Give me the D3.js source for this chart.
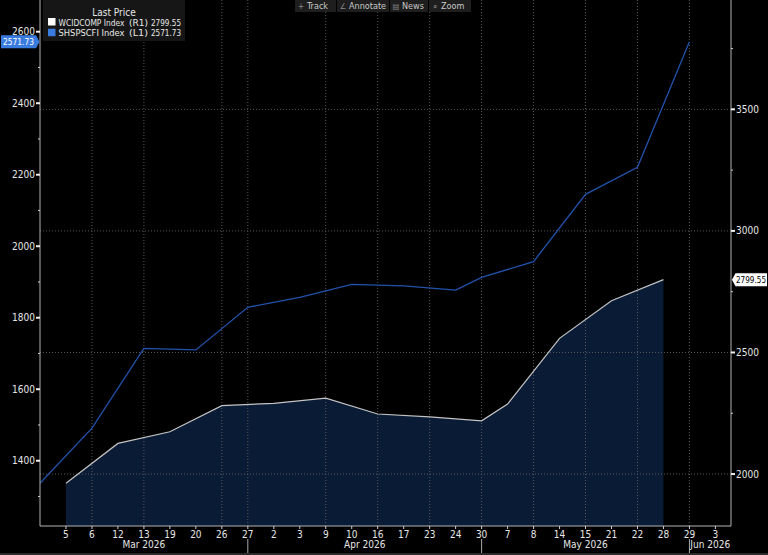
<!DOCTYPE html>
<html>
<head>
<meta charset="utf-8">
<script src="https://cdn.jsdelivr.net/npm/d3@7"></script>
<style>
  html, body { margin: 0; padding: 0; background: #000; }
  text { font-family: "Liberation Sans Narrow", "DejaVu Sans Condensed", "Liberation Sans", sans-serif; }
</style>
</head>
<body>
<div id="chart-container"></div>
<script>
// weekly dates on the category axis (Thursdays for WCI, Fridays for SCFI)
const dates = ["5", "6", "12", "13", "19", "20", "26", "27", "2", "3", "9", "10", "16",
  "17", "23", "24", "30", "7", "8", "14", "15", "21", "22", "28", "29", "3"];
const months = ["Mar 2026", "Apr 2026", "May 2026", "Jun 2026"];
const monthLastIndex = [7, 16, 24, 25];
const gridIndex = [1, 3, 6, 7, 10, 12, 14, 16, 18, 20, 22, 24];

// SHSPSCFI Index (left axis); the first value is the week before the window
const scfiPrior = 1337;
const scfi = [null, 1491, null, 1714, null, 1710, null, 1829, null, 1857, null, 1893, null,
  1889, null, 1877, 1913, null, 1957, null, 2145, null, 2221, null, 2571.73, null];
// WCIDCOMP Index (right axis)
const wci = [1962, null, 2126, null, 2174, null, 2281, null, 2291, null, 2312, null, 2247,
  null, 2235, null, 2219, 2288, null, 2558, null, 2713, null, 2799.55, null, null];

const leftTicks = [1400, 1600, 1800, 2000, 2200, 2400, 2600];
const leftMinor = [1300, 1500, 1700, 1900, 2100, 2300, 2500];
const rightTicks = [2000, 2500, 3000, 3500];
const rightMinor = [2250, 2750, 3250, 3750];

const width = 768;
const height = 555;
const plot = { left: 40, right: 731, top: 0, bottom: 526 };

const xScale = d3.scaleLinear().domain([-1, 25.6]).range([plot.left, plot.right]);
const yLeft = d3.scaleLinear().domain([1217.4, 2688.7]).range([plot.bottom, plot.top]);
const yRight = d3.scaleLinear().domain([1786.3, 3949.6]).range([plot.bottom, plot.top]);

const svg = d3
  .select("#chart-container")
  .append("svg")
  .attr("width", width)
  .attr("height", height)
  .style("display", "block")
  .style("background", "#000");

svg.append("defs")
  .append("clipPath")
  .attr("id", "plot-clip")
  .append("rect")
  .attr("x", plot.left)
  .attr("y", plot.top)
  .attr("width", plot.right - plot.left)
  .attr("height", plot.bottom - plot.top);

const scfiPts = [[-1, scfiPrior]].concat(
  scfi.map((v, i) => [i, v]).filter(d => d[1] !== null)
);
const wciPts = wci.map((v, i) => [i, v]).filter(d => d[1] !== null);

// area under WCI
const area = d3.area()
  .x(d => xScale(d[0]))
  .y0(plot.bottom)
  .y1(d => yRight(d[1]));

svg.append("path")
  .datum(wciPts)
  .attr("d", area)
  .attr("fill", "#0a1b35");

// grid
const grid = svg.append("g").attr("class", "grid");
grid.selectAll(".hgrid")
  .data(rightTicks)
  .enter()
  .append("line")
  .attr("x1", plot.left)
  .attr("x2", plot.right)
  .attr("y1", d => yRight(d))
  .attr("y2", d => yRight(d))
  .attr("stroke", "#5a5a5a")
  .attr("stroke-dasharray", "1,2");

grid.selectAll(".vgrid")
  .data(gridIndex)
  .enter()
  .append("line")
  .attr("x1", d => xScale(d))
  .attr("x2", d => xScale(d))
  .attr("y1", plot.top)
  .attr("y2", plot.bottom)
  .attr("stroke", "#5a5a5a")
  .attr("stroke-dasharray", "1,2");

// lines
const lineGen = d3.line()
  .x(d => xScale(d[0]));

svg.append("path")
  .datum(wciPts)
  .attr("d", lineGen.y(d => yRight(d[1])))
  .attr("fill", "none")
  .attr("stroke", "#c4c4c4")
  .attr("stroke-width", 1.2);

svg.append("path")
  .datum(scfiPts)
  .attr("clip-path", "url(#plot-clip)")
  .attr("d", lineGen.y(d => yLeft(d[1])))
  .attr("fill", "none")
  .attr("stroke", "#2252ac")
  .attr("stroke-width", 1.3);

// axes
const axisColor = "#b4b4b4";
svg.append("line")
  .attr("x1", plot.left).attr("x2", plot.left)
  .attr("y1", plot.top).attr("y2", plot.bottom)
  .attr("stroke", axisColor);
svg.append("line")
  .attr("x1", plot.right).attr("x2", plot.right)
  .attr("y1", plot.top).attr("y2", plot.bottom)
  .attr("stroke", axisColor);
svg.append("line")
  .attr("x1", plot.left).attr("x2", plot.right)
  .attr("y1", plot.bottom).attr("y2", plot.bottom)
  .attr("stroke", axisColor);

// left axis
const leftAxis = svg.append("g");
leftAxis.selectAll(".tick")
  .data(leftTicks)
  .enter()
  .append("rect")
  .attr("x", plot.left - 4)
  .attr("y", d => yLeft(d) - 1)
  .attr("width", 4)
  .attr("height", 2)
  .attr("fill", "#eee");
leftAxis.selectAll(".minor")
  .data(leftMinor)
  .enter()
  .append("line")
  .attr("x1", plot.left - 2)
  .attr("x2", plot.left)
  .attr("y1", d => yLeft(d))
  .attr("y2", d => yLeft(d))
  .attr("stroke", "#ccc");
leftAxis.selectAll(".label")
  .data(leftTicks)
  .enter()
  .append("text")
  .attr("x", plot.left - 5)
  .attr("y", d => yLeft(d) + 3.5)
  .attr("text-anchor", "end")
  .attr("font-size", "10px")
  .attr("fill", "#e6e6e6")
  .text(d => d);

// right axis
const rightAxis = svg.append("g");
rightAxis.selectAll(".tick")
  .data(rightTicks)
  .enter()
  .append("rect")
  .attr("x", plot.right)
  .attr("y", d => yRight(d) - 1)
  .attr("width", 4)
  .attr("height", 2)
  .attr("fill", "#eee");
rightAxis.selectAll(".minor")
  .data(rightMinor)
  .enter()
  .append("line")
  .attr("x1", plot.right)
  .attr("x2", plot.right + 2)
  .attr("y1", d => yRight(d))
  .attr("y2", d => yRight(d))
  .attr("stroke", "#ccc");
rightAxis.selectAll(".label")
  .data(rightTicks)
  .enter()
  .append("text")
  .attr("x", plot.right + 5)
  .attr("y", d => yRight(d) + 3.5)
  .attr("font-size", "10px")
  .attr("fill", "#e6e6e6")
  .text(d => d);

// bottom axis
const bottomAxis = svg.append("g");
bottomAxis.selectAll(".tick")
  .data(dates)
  .enter()
  .append("line")
  .attr("x1", (d, i) => xScale(i))
  .attr("x2", (d, i) => xScale(i))
  .attr("y1", plot.bottom)
  .attr("y2", plot.bottom + 3)
  .attr("stroke", "#ccc");
bottomAxis.selectAll(".label")
  .data(dates)
  .enter()
  .append("text")
  .attr("x", (d, i) => xScale(i))
  .attr("y", plot.bottom + 12)
  .attr("text-anchor", "middle")
  .attr("font-size", "10px")
  .attr("fill", "#e6e6e6")
  .text(d => d);

const monthBounds = monthLastIndex.map((last, i) => {
  const start = i === 0 ? plot.left : xScale(monthLastIndex[i - 1]);
  const end = i === monthLastIndex.length - 1 ? plot.right : xScale(last);
  return [start, end];
});
bottomAxis.selectAll(".sep")
  .data(monthLastIndex.slice(0, -1))
  .enter()
  .append("line")
  .attr("x1", d => xScale(d))
  .attr("x2", d => xScale(d))
  .attr("y1", plot.bottom + 13)
  .attr("y2", plot.bottom + 27)
  .attr("stroke", "#aaa");
bottomAxis.selectAll(".month")
  .data(months)
  .enter()
  .append("text")
  .attr("x", (d, i) => (monthBounds[i][0] + monthBounds[i][1]) / 2)
  .attr("y", plot.bottom + 22)
  .attr("text-anchor", "middle")
  .attr("font-size", "10px")
  .attr("fill", "#e6e6e6")
  .text(d => d);

svg.append("rect")
  .attr("x", 0).attr("y", 553)
  .attr("width", width).attr("height", 2)
  .attr("fill", "#2a2a2a");

// last price tags
const lastScfi = scfiPts[scfiPts.length - 1][1];
const lastWci = wciPts[wciPts.length - 1][1];
const ly = yLeft(lastScfi);
svg.append("path")
  .attr("d", `M1,${ly - 6.5}H36L39.5,${ly}L36,${ly + 6.5}H1Z`)
  .attr("fill", "#3a7be0");
svg.append("text")
  .attr("x", 3)
  .attr("y", ly + 3.3)
  .attr("font-size", "8.3px")
  .attr("textLength", 31)
  .attr("lengthAdjust", "spacingAndGlyphs")
  .attr("fill", "#fff")
  .text(lastScfi.toFixed(2));

const ry = yRight(lastWci);
svg.append("path")
  .attr("d", `M732,${ry}L735.5,${ry - 6.5}H767V${ry + 6.5}H735.5Z`)
  .attr("fill", "#fff");
svg.append("text")
  .attr("x", 736)
  .attr("y", ry + 3.3)
  .attr("font-size", "8.1px")
  .attr("textLength", 30)
  .attr("lengthAdjust", "spacingAndGlyphs")
  .attr("fill", "#000")
  .text(lastWci.toFixed(2));

// legend
const legend = svg.append("g");
legend.append("rect")
  .attr("x", 43).attr("y", 0)
  .attr("width", 142).attr("height", 41)
  .attr("fill", "#161616");
legend.append("text")
  .attr("x", 114).attr("y", 15.5)
  .attr("text-anchor", "middle")
  .attr("font-size", "10px")
  .attr("fill", "#e6e6e6")
  .text("Last Price");

const legendRows = [
  { name: "WCIDCOMP Index", tag: "(R1)", value: lastWci, color: "#ffffff" },
  { name: "SHSPSCFI Index", tag: "(L1)", value: lastScfi, color: "#3a7be0" }
];
const rows = legend.selectAll(".row")
  .data(legendRows)
  .enter()
  .append("g")
  .attr("transform", (d, i) => `translate(0,${22 + i * 10.7})`);
rows.append("rect")
  .attr("x", 48).attr("y", -4)
  .attr("width", 7.5).attr("height", 7.5)
  .attr("fill", d => d.color);
rows.append("text")
  .attr("x", 58.5).attr("y", 3.5)
  .attr("font-size", "8.4px")
  .attr("textLength", 66)
  .attr("lengthAdjust", "spacingAndGlyphs")
  .attr("fill", "#e6e6e6")
  .text(d => d.name);
rows.append("text")
  .attr("x", 129).attr("y", 3.5)
  .attr("font-size", "8.4px")
  .attr("textLength", 19)
  .attr("lengthAdjust", "spacingAndGlyphs")
  .attr("fill", "#e6e6e6")
  .text(d => d.tag);
rows.append("text")
  .attr("x", 151).attr("y", 3.5)
  .attr("font-size", "8.4px")
  .attr("textLength", 30)
  .attr("lengthAdjust", "spacingAndGlyphs")
  .attr("fill", "#e6e6e6")
  .text(d => d.value.toFixed(2));

// toolbar
const tools = [
  { icon: "+", label: "Track", x: 295, w: 41 },
  { icon: "\u2220", label: "Annotate", x: 337, w: 52 },
  { icon: "\u25A4", label: "News", x: 390, w: 38 },
  { icon: "\u2315", label: "Zoom", x: 429, w: 42 }
];
const bar = svg.selectAll(".tool")
  .data(tools)
  .enter()
  .append("g");
bar.append("rect")
  .attr("x", d => d.x).attr("y", 0)
  .attr("width", d => d.w).attr("height", 12)
  .attr("fill", "#1e1e1e");
bar.append("text")
  .attr("x", d => d.x + 6).attr("y", 9)
  .attr("text-anchor", "middle")
  .attr("font-size", "8px")
  .attr("fill", "#8a8a8a")
  .text(d => d.icon);
bar.append("text")
  .attr("x", d => d.x + 12).attr("y", 9)
  .attr("font-size", "9px")
  .attr("fill", "#c8c8c8")
  .text(d => d.label);
</script>
</body>
</html>
